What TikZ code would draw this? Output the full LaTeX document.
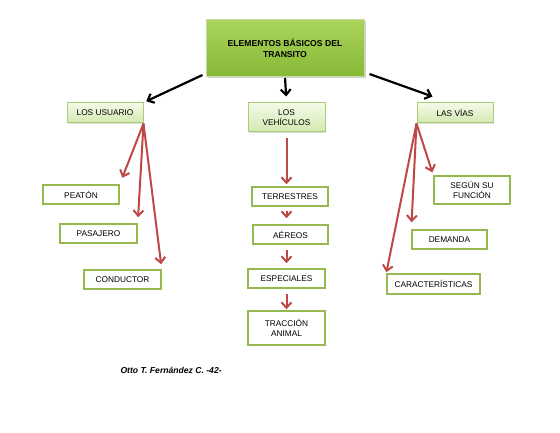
\documentclass[tikz,border=0pt]{standalone}
\usepackage{fontspec}
\setmainfont{Liberation Sans}
\usetikzlibrary{arrows.meta,shadows,calc}
\definecolor{mainTop}{RGB}{170,212,92}
\definecolor{mainBot}{RGB}{136,184,54}
\definecolor{mainBorder}{RGB}{196,220,160}
\definecolor{liteTop}{RGB}{244,250,232}
\definecolor{liteBot}{RGB}{210,233,176}
\definecolor{liteBorder}{RGB}{172,205,118}
\definecolor{boxBorder}{RGB}{150,184,80}
\definecolor{redArrow}{RGB}{190,72,70}
\tikzset{
  mainbox/.style={rectangle, draw=mainBorder, line width=1pt, top color=mainTop, bottom color=mainBot,
    drop shadow={shadow xshift=2pt, shadow yshift=-2pt, opacity=0.35},
    minimum width=158pt, minimum height=57pt, align=center, font=\fontsize{8.6}{11}\selectfont\bfseries, inner sep=0pt},
  litebox/.style={rectangle, draw=liteBorder, line width=1pt, top color=liteTop, bottom color=liteBot,
    drop shadow={shadow xshift=1.2pt, shadow yshift=-1.2pt, opacity=0.25},
    minimum width=76pt, minimum height=20pt, align=center, font=\fontsize{8.3}{10.5}\selectfont, inner sep=0pt},
  plainbox/.style={rectangle, draw=boxBorder, line width=1.5pt, fill=white,
    minimum width=76pt, minimum height=19pt, align=center, font=\fontsize{8.3}{10.5}\selectfont, inner sep=0pt},
  blackarrow/.style={draw=black, line width=2.2pt, -{Straight Barb[length=5.5pt,width=10pt]}},
  redarrow/.style={draw=redArrow, line width=2pt, -{Straight Barb[length=5.5pt,width=10pt]}},
}
\begin{document}
\begin{tikzpicture}[x=1pt,y=-1pt]
\useasboundingbox (0,0) rectangle (560,433);
\node[mainbox] (main) at (285,48) {ELEMENTOS BÁSICOS DEL\\TRANSITO};
\node[litebox] (usuario) at (105,113) {LOS USUARIO};
\node[litebox, minimum width=77pt, minimum height=29pt] (vehiculos) at (286.5,117.5) {LOS\\VEHÍCULOS};
\node[litebox] (vias) at (455,113) {LAS VÍAS};

\node[plainbox] (peaton) at (81,194.5) {PEATÓN};
\node[plainbox, minimum width=77pt] (pasajero) at (98.5,233.5) {PASAJERO};
\node[plainbox, minimum width=77pt] (conductor) at (122.5,279.5) {CONDUCTOR};

\node[plainbox] (terrestres) at (290,196.5) {TERRESTRES};
\node[plainbox, minimum width=75pt] (aereos) at (290.5,234.5) {AÉREOS};
\node[plainbox, minimum width=77pt] (especiales) at (286.5,278.5) {ESPECIALES};
\node[plainbox, minimum width=77pt, minimum height=34pt] (traccion) at (286.5,328) {TRACCIÓN\\ANIMAL};

\node[plainbox, minimum height=28pt] (segun) at (472,190) {SEGÚN SU\\FUNCIÓN};
\node[plainbox, minimum width=75pt] (demanda) at (449.5,239.5) {DEMANDA};
\node[plainbox, minimum width=93pt, minimum height=20pt] (caract) at (433.5,284) {CARACTERÍSTICAS};

\node[anchor=west, font=\fontsize{8.6}{10}\selectfont\bfseries\itshape] (autor) at (117,370) {Otto T. Fernández C. -42-};

% black arrows
\coordinate (vtip) at ($(vias.north west)+(16,-6)$);
\coordinate (mstart) at ($(main.south east)+(5,-3)$);
\coordinate (lstart) at ($(main.south west)+(-3,-2)$);
\draw[blackarrow, shorten >=3pt] (lstart) -- (usuario.north east);
\draw[blackarrow] (mstart) -- (vtip);
\draw[blackarrow, shorten <=1pt, shorten >=6pt] (main.south) -- (vehiculos.north);

% red arrows: usuarios
\draw[redarrow, shorten >=7pt] (usuario.south east) -- (peaton.north east);
\draw[redarrow, shorten >=6pt] (usuario.south east) -- (pasajero.north east);
\draw[redarrow, shorten >=5pt] (usuario.south east) -- (conductor.north east);

% red arrows: vehiculos
\draw[redarrow, shorten <=6pt, shorten >=2pt] (vehiculos.south) -- (vehiculos.south |- terrestres.north);
\draw[redarrow, shorten <=4pt, shorten >=6pt] (especiales.north |- terrestres.south) -- (especiales.north |- aereos.north);
\draw[redarrow, shorten <=5pt, shorten >=5pt] (especiales.north |- aereos.south) -- (especiales.north);
\draw[redarrow, shorten <=5pt, shorten >=1pt] (especiales.south) -- (traccion.north);

% red arrows: vias
\draw[redarrow, shorten >=3pt] (vias.south west) -- (segun.north west);
\draw[redarrow, shorten >=7pt] (vias.south west) -- (demanda.north west);
\draw[redarrow, shorten >=1pt] (vias.south west) -- (caract.north west);
\end{tikzpicture}
\end{document}
